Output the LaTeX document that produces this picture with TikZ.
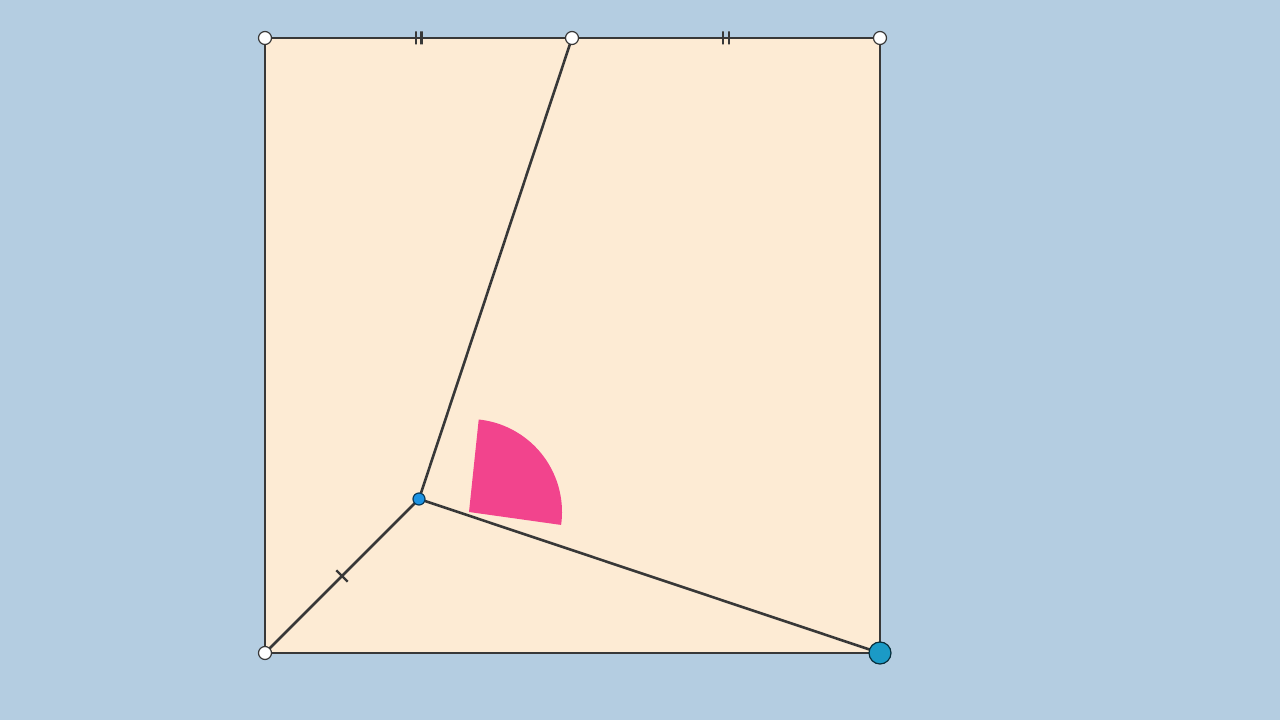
\documentclass[tikz,border=0pt]{standalone}
\usepackage{xcolor}
\usepackage{tikz}
\usetikzlibrary{positioning}
\definecolor{bgBlue}{HTML}{B4CDE1}
\definecolor{paper}{HTML}{FDEBD4}
\definecolor{edgeGray}{HTML}{383838}
\definecolor{sectorPink}{HTML}{F2448D}
\definecolor{dotTeal}{HTML}{1B9AC6}
\definecolor{dotBlue}{HTML}{1C93E3}
\tikzset {
	side/.style={draw=edgeGray, line width=2.6pt},
	whitedot/.style={circle, draw=edgeGray, fill=white, line width=1.2pt, minimum size=13pt, inner sep=0pt},
	bigdot/.style={circle, draw=black!70!dotTeal, fill=dotTeal, line width=1.2pt, minimum size=22pt, inner sep=0pt},
	smalldot/.style={circle, draw=black!60!dotBlue, fill=dotBlue, line width=1.2pt, minimum size=12pt, inner sep=0pt},
	tickmark/.style={draw=edgeGray, line width=2.4pt, minimum width=0pt, minimum height=13pt, inner sep=0pt, outer sep=0pt}
}

\begin{document}
\begin{tikzpicture}[x=1pt, y=1pt]
	\fill[bgBlue] (0,0) rectangle (1280,720);
	\useasboundingbox (0,0) rectangle (1280,720);
	\coordinate (tl) at (265,682);
	\coordinate (tm) at (572,682);
	\coordinate (tr) at (880,682);
	\coordinate (bl) at (265,67);
	\coordinate (br) at (880,67);
	\coordinate (p) at (419,221);
	\coordinate (c) at (469,208);
	% square
	\fill[paper] (bl) rectangle (tr);
	% turning right angle
	\fill[sectorPink] (c) -- ++(-8:93) arc[start angle=-8, end angle=84, radius=93] -- cycle;
	\draw[side] (bl) -- (br) -- (tr) -- (tl) -- cycle;
	\draw[side] (p) -- (tm);
	\draw[side] (p) -- (br);
	\draw[side] (p) -- (bl);
	% equal marks
	\path (tl) -- (tm) node[midway, xshift=-2.8pt, tickmark] {} node[midway, xshift=2.8pt, tickmark] {};
	\path (tm) -- (tr) node[midway, xshift=-2.8pt, tickmark] {} node[midway, xshift=2.8pt, tickmark] {};
	\path (bl) -- (p) node[midway, sloped, tickmark, minimum height=16pt] {};
	% points
	\node[whitedot] (tlDot) at (tl) {};
	\node[whitedot] (tmDot) at (tm) {};
	\node[whitedot] (trDot) at (tr) {};
	\node[whitedot] (blDot) at (bl) {};
	\node[smalldot] (pDot) at (p) {};
	\node[bigdot] (brDot) at (br) {};
\end{tikzpicture}
\end{document}
